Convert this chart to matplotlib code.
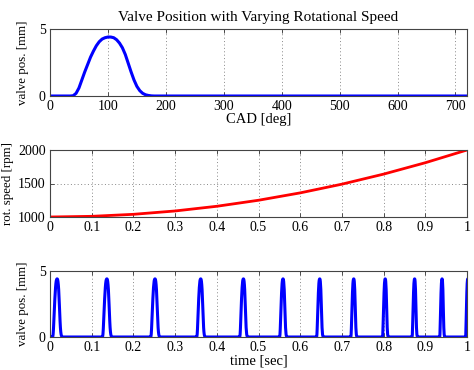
import matplotlib
matplotlib.use("Agg")
import matplotlib.pyplot as plt
import numpy as np

# --- data ---
cad_deg = [0, 30, 35, 40, 45, 50, 55, 60, 65, 70, 75, 80, 85, 90, 95, 100, 105,
           110, 115, 120, 125, 130, 135, 140, 145, 150, 155, 160, 165, 170, 175, 180, 720]
lift_mm = [0, 0, 0, 0.02, 0.2, 0.6, 1.2, 1.8, 2.35, 2.9, 3.35, 3.75, 4.05, 4.25, 4.35, 4.4, 4.4,
           4.35, 4.2, 3.95, 3.6, 3.1, 2.45, 1.8, 1.2, 0.72, 0.4, 0.2, 0.09, 0.04, 0.01, 0, 0]

time_s = [0, 0.1, 0.2, 0.3, 0.4, 0.5, 0.6, 0.7, 0.8, 0.9, 1.0]
speed_rpm = [1000, 1010, 1040, 1090, 1160, 1250, 1360, 1490, 1640, 1810, 2000]

pulse_peak_t = [0.0173, 0.1366, 0.252, 0.3616, 0.464, 0.559, 0.647, 0.7285, 0.804, 0.8745, 0.9403, 1.002]
pulse_dur = [0.0233, 0.0229, 0.0220, 0.0206, 0.0192, 0.0178, 0.0164, 0.0152, 0.0142, 0.0132, 0.0124, 0.0117]
peak_cad = 104
open_span = 140

cad_ticks = [0, 100, 200, 300, 400, 500, 600, 700]
time_ticks = [0, 0.1, 0.2, 0.3, 0.4, 0.5, 0.6, 0.7, 0.8, 0.9, 1]
time_labels = ["0", "0.1", "0.2", "0.3", "0.4", "0.5", "0.6", "0.7", "0.8", "0.9", "1"]

plt.rcParams['font.family'] = ['Liberation Serif', 'DejaVu Serif']
plt.rcParams['font.size'] = 10

fig = plt.figure(figsize=(4.74, 3.70), dpi=100)
L, W = 50/474, 417/474
ax1 = fig.add_axes([L, 1-96/370, W, 67/370])
ax2 = fig.add_axes([L, 1-217/370, W, 67/370])
ax3 = fig.add_axes([L, 1-337/370, W, 66/370])

blue = (0, 0, 1)
red = (1, 0, 0)
LABEL_FS = 9.3

def style(ax):
    ax.grid(True, linestyle=(0, (1, 2.5)), color='#888888', linewidth=0.7)
    ax.tick_params(direction='in', top=True, right=True, length=3, width=0.6,
                   color='#333333', labelsize=10, pad=3)
    for s in ax.spines.values():
        s.set_color('#444444')
        s.set_linewidth(0.8)
    ax.set_axisbelow(True)

# top
ax1.plot(cad_deg, lift_mm, color=blue, lw=2.2, solid_capstyle='butt')
ax1.set_xlim(0, 720)
ax1.set_ylim(0, 5)
ax1.set_xticks(cad_ticks)
ax1.set_yticks([0, 5])
ax1.set_xlabel("CAD [deg]", labelpad=0, fontsize=10.5)
ax1.set_ylabel("valve pos. [mm]", labelpad=7, fontsize=LABEL_FS)
ax1.set_title("Valve Position with Varying Rotational Speed", fontsize=11, pad=6)
style(ax1)

# middle
ax2.plot(time_s, speed_rpm, color=red, lw=2.0)
ax2.set_xlim(0, 1)
ax2.set_ylim(1000, 2000)
ax2.set_xticks(time_ticks)
ax2.set_xticklabels(time_labels)
ax2.set_yticks([1000, 1500, 2000])
ax2.set_ylabel("rot. speed [rpm]", labelpad=3, fontsize=LABEL_FS)
style(ax2)

# bottom
cad_arr = np.array(cad_deg[1:-1], dtype=float)
lift_arr = np.array(lift_mm[1:-1], dtype=float)
xs, ys = [0.0], [0.0]
for tp, d in zip(pulse_peak_t, pulse_dur):
    xs.extend(list(tp + (cad_arr - peak_cad) / open_span * d))
    ys.extend(list(lift_arr))
xs.append(1.05)
ys.append(0.0)
ax3.plot(xs, ys, color=blue, lw=2.2)
ax3.set_xlim(0, 1)
ax3.set_ylim(0, 5)
ax3.set_xticks(time_ticks)
ax3.set_xticklabels(time_labels)
ax3.set_yticks([0, 5])
ax3.set_xlabel("time [sec]", labelpad=0, fontsize=10.5)
ax3.set_ylabel("valve pos. [mm]", labelpad=7, fontsize=LABEL_FS)
style(ax3)

fig.savefig("out.png", dpi=100)
